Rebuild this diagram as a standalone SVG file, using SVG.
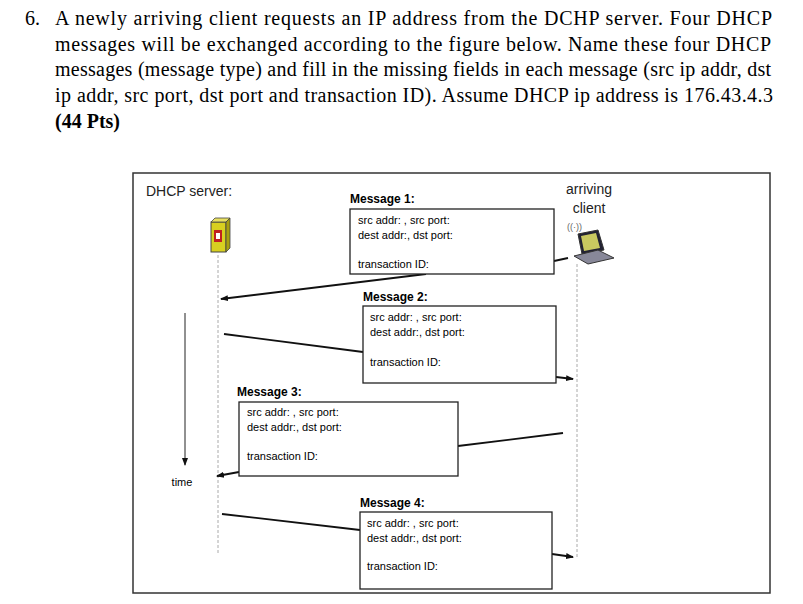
<svg xmlns="http://www.w3.org/2000/svg" width="803" height="604" viewBox="0 0 803 604">
<defs>
<style>
.q{font-family:"Liberation Serif",serif;font-size:20px;fill:#000}
.t{font-family:"Liberation Sans",Arial,sans-serif;font-size:11px;fill:#000}
.h{font-family:"Liberation Sans",Arial,sans-serif;font-size:12px;font-weight:bold;fill:#000}
.lbl{font-family:"Liberation Sans",Arial,sans-serif;font-size:14px;fill:#222}
.box{fill:#fff;stroke:#222;stroke-width:1.3}
.life{stroke:#aaa;stroke-width:1;stroke-dasharray:3 2}
.c{stroke:#111;stroke-width:1.8;fill:none}
</style>
<marker id="ah" markerWidth="8" markerHeight="8" refX="7" refY="4" orient="auto" markerUnits="userSpaceOnUse"><path d="M0,1 L8,4 L0,7 Z" fill="#111"/></marker>
</defs>
<rect width="803" height="604" fill="#fff"/>
<g id="question">
<text class="q" x="25" y="25">6.</text>
<text class="q" x="55" y="25" textLength="717" lengthAdjust="spacing">A newly arriving client requests an IP address from the DCHP server. Four DHCP</text>
<text class="q" x="55" y="51" textLength="716" lengthAdjust="spacing">messages will be exchanged according to the figure below. Name these four DHCP</text>
<text class="q" x="55" y="76" textLength="716" lengthAdjust="spacing">messages (message type) and fill in the missing fields in each message (src ip addr, dst</text>
<text class="q" x="55" y="102" textLength="718" lengthAdjust="spacing">ip addr, src port, dst port and transaction ID). Assume DHCP ip address is 176.43.4.3</text>
<text class="q" x="55" y="128" font-weight="bold">(44 Pts)</text>
</g>
<rect x="133" y="173" width="637" height="420" fill="none" stroke="#333" stroke-width="1.5"/>
<g id="server">
<text class="lbl" x="146" y="196">DHCP server:</text>
<rect x="211" y="222" width="15" height="30" fill="#d8d020" stroke="#444" stroke-width="1"/>
<polygon points="211,222 215,218 230,218 226,222" fill="#e8e060" stroke="#444" stroke-width="0.8"/>
<polygon points="226,222 230,218 230,248 226,252" fill="#a8a010" stroke="#444" stroke-width="0.8"/>
<rect x="214" y="230" width="8" height="12" fill="#c02020"/>
<rect x="216" y="233" width="4" height="6" fill="#fff"/>
<line class="life" x1="218" y1="255" x2="218" y2="553"/>
</g>
<g id="client">
<text class="lbl" x="589" y="194" text-anchor="middle">arriving</text>
<text class="lbl" x="589" y="213" text-anchor="middle">client</text>
<text x="567" y="230" font-family="Liberation Sans,sans-serif" font-size="9" fill="#666">((·))</text>
<polygon points="578,234 598,230 604,250 582,254" fill="#223" stroke="#333"/>
<polygon points="581,236 596,233 600,248 584,251" fill="#c8c860"/>
<polygon points="574,256 598,250 614,258 588,264" fill="#889" stroke="#333"/>
<line class="life" x1="577" y1="264" x2="577" y2="558"/>
</g>
<g id="time">
<line x1="185" y1="313" x2="185" y2="465" stroke="#222" stroke-width="1" marker-end="url(#ah)"/>
<text class="t" x="182" y="486" text-anchor="middle" font-size="9">time</text>
</g>
<g id="connectors">
<line class="c" x1="568" y1="258" x2="554" y2="261"/>
<line class="c" x1="426" y1="274" x2="221" y2="299" marker-end="url(#ah)"/>
<line class="c" x1="224" y1="334" x2="363" y2="352"/>
<line class="c" x1="556" y1="377" x2="573" y2="379" marker-end="url(#ah)"/>
<line class="c" x1="563" y1="433" x2="458" y2="446"/>
<line class="c" x1="239" y1="472" x2="217" y2="476" marker-end="url(#ah)"/>
<line class="c" x1="222" y1="514" x2="360" y2="530"/>
<line class="c" x1="552" y1="554" x2="573" y2="557" marker-end="url(#ah)"/>
</g>
<g id="msg1">
<text class="h" x="350" y="203">Message 1:</text>
<rect class="box" x="350" y="209" width="204" height="65"/>
<text class="t" x="358" y="224">src addr: , src port:</text>
<text class="t" x="358" y="239">dest addr:, dst port:</text>
<text class="t" x="358" y="268">transaction ID:</text>
</g>
<g id="msg2">
<text class="h" x="363" y="301">Message 2:</text>
<rect class="box" x="363" y="306" width="193" height="77"/>
<text class="t" x="370" y="321">src addr: , src port:</text>
<text class="t" x="370" y="336">dest addr:, dst port:</text>
<text class="t" x="370" y="366">transaction ID:</text>
</g>
<g id="msg3">
<text class="h" x="237" y="396">Message 3:</text>
<rect class="box" x="239" y="402" width="219" height="74"/>
<text class="t" x="247" y="416">src addr: , src port:</text>
<text class="t" x="247" y="431">dest addr:, dst port:</text>
<text class="t" x="247" y="460">transaction ID:</text>
</g>
<g id="msg4">
<text class="h" x="360" y="507">Message 4:</text>
<rect class="box" x="360" y="512" width="192" height="77"/>
<text class="t" x="367" y="527">src addr: , src port:</text>
<text class="t" x="367" y="542">dest addr:, dst port:</text>
<text class="t" x="367" y="570">transaction ID:</text>
</g>
</svg>
